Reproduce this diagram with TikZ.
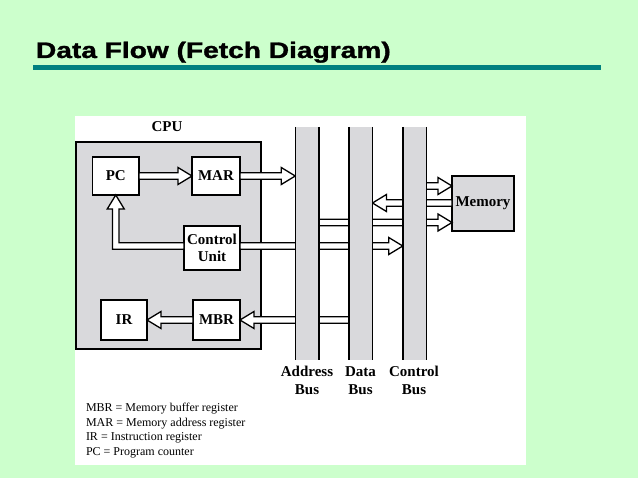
\documentclass[tikz,border=0pt]{standalone}
\usepackage{fontspec}
\setmainfont{Liberation Serif}
\newfontfamily\titlefont[BoldFeatures={FakeBold=1.2}]{Liberation Sans}
\usetikzlibrary{calc}
\definecolor{bggreen}{RGB}{204,255,204}
\definecolor{ruleteal}{RGB}{0,128,128}
\definecolor{boxgray}{RGB}{217,217,220}
\tikzset{
  every node/.style={inner sep=0pt, outer sep=0pt},
  lbl/.style={font=\fontsize{15}{17.5}\selectfont\bfseries},
  reg/.style={draw, line width=1.4pt, fill=white, align=center,
    font=\fontsize{15}{17.5}\selectfont\bfseries},
  legend/.style={anchor=base west, font=\fontsize{12}{14}\selectfont},
  busarea/.style={minimum width=23.5, minimum height=233},
  busline/.style={line width=1.5pt},
  blockarrow/.style={draw=black, fill=white, line width=1.3pt,
    to path={let \p1=(\tikztostart), \p2=(\tikztotarget),
      \n1={atan2(\y2-\y1,\x2-\x1)}, \n3={cos(\n1)}, \n4={sin(\n1)} in
      ({\x1-3.3pt*(\n4)},{\y1+3.3pt*(\n3)})
      -- ({\x2-14pt*(\n3)-3.3pt*(\n4)},{\y2-14pt*(\n4)+3.3pt*(\n3)})
      -- ({\x2-14pt*(\n3)-8.5pt*(\n4)},{\y2-14pt*(\n4)+8.5pt*(\n3)})
      -- (\p2)
      -- ({\x2-14pt*(\n3)+8.5pt*(\n4)},{\y2-14pt*(\n4)-8.5pt*(\n3)})
      -- ({\x2-14pt*(\n3)+3.3pt*(\n4)},{\y2-14pt*(\n4)-3.3pt*(\n3)})
      -- ({\x1+3.3pt*(\n4)},{\y1-3.3pt*(\n3)}) -- cycle}},
  lshape/.style={draw=black, fill=white, line width=1.3pt}
}
\begin{document}
\begin{tikzpicture}[x=1pt,y=-1pt]
\useasboundingbox (0,0) rectangle (638,478);
\fill[bggreen] (0,0) rectangle (638,478);
\fill[ruleteal] (33,65) rectangle (601,70.5);
\node[anchor=base west, font=\titlefont\fontsize{22.5}{27}\selectfont\bfseries] (title) at (36,58)
  {\scalebox{1.25}[1]{Data Flow (Fetch Diagram)}};
\fill[white] (75,116.5) rectangle (526,465.5);

% CPU box
\node[draw, line width=1.5pt, fill=boxgray, minimum width=185, minimum height=207] (cpu) at (168.5,245.5) {};
\node[lbl] (cpulbl) at (167,127) {CPU};

% bus areas (filled later)
\node[busarea] (abus) at (307,243.3) {};
\node[busarea] (dbus) at (360.7,243.3) {};
\node[busarea] (cbus) at (414.5,243.3) {};

% registers
\node[reg, minimum width=46.5, minimum height=38] (pc) at (115.75,176) {PC};
\node[reg, minimum width=48, minimum height=38] (mar) at (216,176) {MAR};
\node[reg, minimum width=56, minimum height=44] (cu) at (212,248) {Control\\Unit};
\node[reg, minimum width=46, minimum height=40] (ir) at (124,320) {IR};
\node[reg, minimum width=47, minimum height=40] (mbr) at (216.5,320) {MBR};
\node[reg, fill=boxgray, minimum width=62, minimum height=55] (mem) at (483,203.5) {Memory};

\coordinate (m1) at ([yshift=17.5pt]mem.west);
\coordinate (m2) at ([yshift=0.5pt]mem.west);
\coordinate (m3) at ([yshift=-19pt]mem.west);
\coordinate (cuw) at ([yshift=2pt]cu.west);
\coordinate (cue) at ([yshift=2pt]cu.east);

% connectors
\draw[blockarrow] (pc.east) to (mar.west);
\draw[blockarrow] (mar.east) to (abus.west |- mar.east);
\draw[blockarrow] (cue) to (cbus.west |- cue);
\draw[blockarrow] (abus.east |- m3) to (m3);
\draw[blockarrow] (m2) to (dbus.east |- m2);
\draw[blockarrow] (cbus.east |- m1) to (m1);
\draw[blockarrow] (dbus.west |- mbr.east) to (mbr.east);
\draw[blockarrow] (mbr.west) to (ir.east);
\draw[lshape] let \p1=(cuw), \p2=(pc.south) in
  (\x1,{\y1+3.3pt}) -- ({\x2+3.3pt},{\y1+3.3pt}) -- ({\x2+3.3pt},{\y2-14pt})
  -- ({\x2+8.5pt},{\y2-14pt}) -- (\p2) -- ({\x2-8.5pt},{\y2-14pt})
  -- ({\x2-3.3pt},{\y2-14pt}) -- ({\x2-3.3pt},{\y1-3.3pt}) -- (\x1,{\y1-3.3pt}) -- cycle;

% buses drawn over the connectors
\foreach \b in {abus,dbus,cbus}{
  \fill[boxgray] (\b.north west) rectangle (\b.south east);
  \draw[busline] (\b.north west) -- (\b.south west);
  \draw[busline] (\b.north east) -- (\b.south east);
}

% bus labels
\node[lbl, anchor=base] (al1) at (307,377) {Address};
\node[lbl, anchor=base] (al2) at (307,395) {Bus};
\node[lbl, anchor=base] (dl1) at (360.5,377) {Data};
\node[lbl, anchor=base] (dl2) at (360.5,395) {Bus};
\node[lbl, anchor=base] (cl1) at (414,377) {Control};
\node[lbl, anchor=base] (cl2) at (414,395) {Bus};

% legend
\node[legend] (leg1) at (86,412) {MBR = Memory buffer register};
\node[legend] (leg2) at (86,426.5) {MAR = Memory address register};
\node[legend] (leg3) at (86,441) {IR = Instruction register};
\node[legend] (leg4) at (86,455.5) {PC = Program counter};
\end{tikzpicture}
\end{document}
